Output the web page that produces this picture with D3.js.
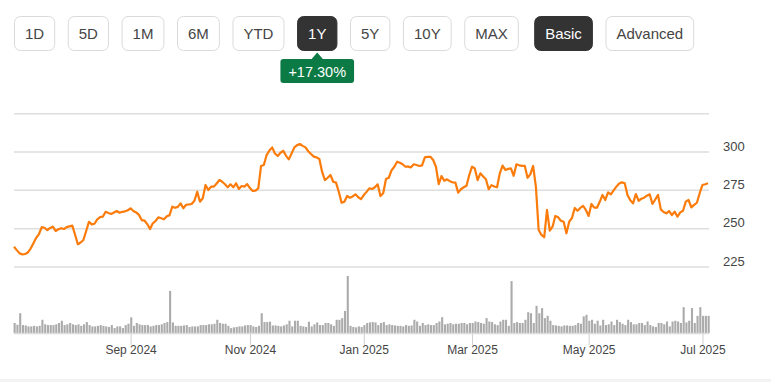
<!DOCTYPE html>
<html>
<head>
<meta charset="utf-8">
<script src="https://cdn.jsdelivr.net/npm/d3@7"></script>
<style>
  body { margin: 0; background: #fff; }
  svg { display: block; font-family: "Liberation Sans", Arial, sans-serif; }
</style>
</head>
<body>
<div id="chart"></div>
<script>
// range buttons + view buttons
var buttonLabels = ["1D","5D","1M","6M","YTD","1Y","5Y","10Y","MAX","Basic","Advanced"];
var activeButtons = ["1Y","Basic"];
var viewButtons = ["Basic","Advanced"];
var changeLabel = "+17.30%";

var priceTicks = [225,250,275,300];
var gridValues = [225,250,275,300,325];

// month ticks, as trading-day index
var monthLabels = ["Sep 2024","Nov 2024","Jan 2025","Mar 2025","May 2025","Jul 2025"];
var monthIndex = [42,85,126,165,207,248];

// daily close, one per trading day (Jul 2024 - Jul 2025)
var prices = [
  238.2,236.0,234.0,233.2,233.5,234.5,237.0,240.5,244.0,246.5,
  251.0,250.6,249.0,250.5,251.3,248.5,249.6,250.3,249.8,251.0,
  251.5,252.0,246.0,239.8,241.0,242.6,248.5,254.5,252.8,253.2,
  256.0,257.5,257.8,261.0,260.2,259.6,260.5,261.5,260.4,261.0,
  261.3,262.0,263.3,261.5,260.6,259.0,255.6,255.3,253.0,249.8,
  253.5,255.0,257.4,256.8,256.1,258.0,258.7,264.3,263.6,264.2,
  266.5,263.3,265.6,265.8,266.1,268.2,274.1,267.6,269.8,278.5,
  275.2,277.4,277.4,279.5,281.7,280.6,279.0,277.0,278.9,277.0,
  279.6,275.9,277.8,277.4,279.1,276.5,274.6,274.8,276.3,290.9,
  291.5,298.0,301.0,303.0,299.0,297.4,299.5,300.8,297.5,295.2,
  299.0,303.0,304.5,305.2,304.0,303.0,300.5,298.7,297.0,296.5,
  295.4,287.0,281.7,283.2,285.0,280.6,280.0,274.1,266.9,267.6,
  271.3,270.2,271.0,272.4,270.5,269.3,271.9,274.0,276.3,275.9,
  277.0,278.9,271.3,273.1,282.4,283.2,288.0,290.4,293.7,293.0,
  292.0,290.4,290.5,290.0,292.0,291.5,290.9,291.3,296.5,296.8,
  296.9,294.8,290.4,279.1,284.3,281.3,282.2,281.0,280.2,280.0,
  273.5,275.7,277.0,278.0,285.0,290.4,289.3,281.7,286.1,284.0,
  282.2,275.7,278.4,277.5,277.0,286.1,291.1,288.3,289.0,289.3,
  284.5,292.0,291.3,291.0,290.9,283.2,285.4,290.9,277.4,249.1,
  245.9,244.4,262.2,248.7,251.3,258.3,257.4,255.2,254.5,247.0,
  254.5,257.0,263.5,261.7,263.5,264.8,262.2,258.3,266.1,263.7,
  263.7,267.5,272.0,268.7,273.7,272.4,275.0,277.4,279.5,280.2,
  279.6,272.0,268.5,266.5,272.6,268.2,269.5,270.2,271.5,272.4,
  266.1,269.0,272.0,262.6,260.9,260.0,261.5,258.9,261.1,257.8,
  260.6,261.7,267.6,268.7,263.9,265.5,266.9,273.1,278.5,279.0,
  279.6
];

// daily volume, millions
var volumes = [
  5.3,4.4,10.5,4.2,4.0,3.5,3.5,3.8,3.5,3.8,
  7.0,4.6,4.2,4.2,4.2,4.6,5.3,6.5,4.2,4.6,
  5.3,4.6,4.2,4.6,3.8,4.6,5.8,4.2,3.5,3.5,
  3.8,4.2,3.8,3.5,3.2,4.2,2.6,3.5,3.5,2.6,
  4.2,4.9,8.3,3.8,5.3,4.6,4.2,4.2,4.2,3.5,
  3.8,4.2,4.2,4.6,5.3,5.8,22.3,5.6,3.8,3.8,
  3.8,4.0,4.2,3.2,3.5,3.5,3.5,4.2,4.2,4.2,
  4.6,4.6,4.9,7.0,5.3,4.9,4.9,3.8,2.6,3.0,
  3.2,3.5,3.5,4.0,4.2,4.2,3.5,3.2,3.8,10.5,
  5.8,5.8,6.0,4.0,4.0,3.8,3.5,4.0,4.6,6.5,
  3.5,6.5,6.5,3.8,3.5,3.2,6.0,3.5,4.6,5.6,
  4.2,4.2,5.3,5.3,4.6,3.8,7.0,7.0,7.9,11.7,
  30.2,3.8,3.2,3.0,3.5,3.2,4.2,5.3,5.6,5.8,
  5.6,4.2,5.3,5.8,4.2,4.6,4.2,4.0,3.8,3.8,
  3.5,4.2,3.8,4.0,7.0,6.1,3.8,5.3,4.2,4.6,
  4.2,4.2,5.3,6.1,8.4,4.6,4.9,5.3,4.6,4.9,
  4.9,5.3,5.3,4.6,5.3,5.3,6.1,5.8,5.3,4.9,
  7.9,6.1,5.8,4.6,4.2,6.1,7.0,7.0,3.8,27.5,
  5.3,5.8,5.3,5.3,7.0,11.0,10.5,5.3,14.4,10.5,
  13.2,7.9,9.1,6.5,4.2,4.0,3.8,3.5,4.0,4.0,
  3.8,3.8,4.2,5.3,4.9,8.8,9.6,6.5,7.0,4.9,
  6.5,4.0,7.0,4.2,4.6,6.1,4.2,7.0,5.8,4.9,
  4.2,7.0,5.8,4.6,4.6,5.3,5.3,4.2,6.1,4.2,
  3.5,3.2,5.3,5.3,4.6,6.1,3.5,6.1,6.5,6.1,
  5.3,13.7,5.6,6.5,13.2,5.3,9.1,13.7,9.1,9.1,
  9.1
];

var W = 771, H = 382;
var svg = d3.select("#chart").append("svg")
  .attr("width", W).attr("height", H);

// ---- buttons ----
var bx = 14, gap = 13.6, btns = [];
buttonLabels.forEach(function(lab){
  var g = svg.append("g");
  var active = activeButtons.indexOf(lab) >= 0;
  var t = g.append("text").text(lab)
    .attr("font-size", 15)
    .attr("fill", active ? "#fff" : "#454545");
  var w = t.node().getComputedTextLength() + 21;
  if (lab === viewButtons[0]) bx += 2.8;
  g.insert("rect", "text")
    .attr("x", bx + 0.5).attr("y", 16.5)
    .attr("width", w).attr("height", 34)
    .attr("rx", 6)
    .attr("fill", active ? "#333" : "#fff")
    .attr("stroke", active ? "#333" : "#dadada");
  t.attr("x", bx + 0.5 + w/2).attr("y", 39).attr("text-anchor", "middle");
  btns.push({label: lab, x: bx, w: w});
  bx += w + gap;
});

// change badge below the active range button
var b1 = btns.filter(function(d){ return d.label === activeButtons[0]; })[0];
var cx = b1.x + b1.w/2 + 0.5;
var badge = svg.append("g");
var bt = badge.append("text").text(changeLabel)
  .attr("font-size", 14.5).attr("fill", "#fff")
  .attr("text-anchor", "middle").attr("x", cx).attr("y", 76.5);
var bw = bt.node().getComputedTextLength() + 16;
badge.insert("rect", "text")
  .attr("x", cx - bw/2).attr("y", 59).attr("width", bw).attr("height", 24)
  .attr("rx", 3).attr("fill", "#0b7a44");
badge.insert("path", "text")
  .attr("d", "M" + (cx-6) + ",59.5L" + cx + ",52.5L" + (cx+6) + ",59.5Z")
  .attr("fill", "#0b7a44");

// ---- scales ----
var x = d3.scaleLinear().domain([0, prices.length - 1]).range([14, 708]);
var y = d3.scaleLinear().domain([225, 300]).range([267, 152]);
var vy = d3.scaleLinear().domain([0, d3.max(volumes)]).range([333, 276]);

// gridlines
svg.append("g").selectAll("line").data(gridValues).enter().append("line")
  .attr("x1", 14).attr("x2", 709)
  .attr("y1", function(d){ return y(d); }).attr("y2", function(d){ return y(d); })
  .attr("stroke", "#dedede").attr("stroke-width", 1.5);

// price axis on the right
var yAxis = svg.append("g").attr("transform", "translate(723,0)")
  .call(d3.axisRight(y).tickValues(priceTicks).tickSize(0).tickPadding(0));
yAxis.select(".domain").remove();
yAxis.selectAll("text")
  .attr("dy", 0).attr("y", -2)
  .attr("font-size", 13).attr("font-family", "Liberation Sans, Arial, sans-serif")
  .attr("fill", "#454545");

// volume bars
svg.append("g").selectAll("rect").data(volumes).enter().append("rect")
  .attr("x", function(d,i){ return x(i) - 0.4; })
  .attr("width", 2.1)
  .attr("y", function(d){ return vy(d); })
  .attr("height", function(d){ return 333 - vy(d); })
  .attr("fill", "#ababab");

// volume baseline
svg.append("line")
  .attr("x1", 14).attr("x2", 709).attr("y1", 333.5).attr("y2", 333.5)
  .attr("stroke", "#dcdcdc").attr("stroke-width", 1.5);

// month axis
var xAxis = svg.append("g").attr("transform", "translate(0,334)")
  .call(d3.axisBottom(x).tickValues(monthIndex).tickSize(11)
    .tickFormat(function(d,i){ return monthLabels[i]; }));
xAxis.select(".domain").remove();
xAxis.selectAll(".tick line").attr("stroke", "#d0d0d0");
xAxis.selectAll("text")
  .attr("dy", 0).attr("y", 20)
  .attr("font-size", 12).attr("font-family", "Liberation Sans, Arial, sans-serif")
  .attr("fill", "#454545");

// price line
svg.append("path").datum(prices)
  .attr("d", d3.line().x(function(d,i){ return x(i); }).y(function(d){ return y(d); }))
  .attr("fill", "none")
  .attr("stroke", "#fb7b0b")
  .attr("stroke-width", 2.2)
  .attr("stroke-linejoin", "round");

// bottom border
svg.append("rect").attr("x", 0).attr("y", 379).attr("width", W).attr("height", 3)
  .attr("fill", "#f3f3f3");
</script>
</body>
</html>
